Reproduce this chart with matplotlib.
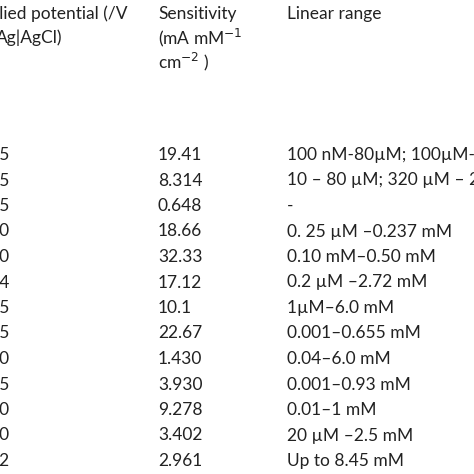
import matplotlib
matplotlib.use("Agg")
import matplotlib.pyplot as plt

potential = ["0.55", "0.55", "0.55", "0.60", "0.60", "0.54", "0.55",
             "0.55", "0.60", "0.55", "0.60", "0.60", "0.62"]
sensitivity = ["19.41", "8.314", "0.648", "18.66", "32.33", "17.12", "10.1",
               "22.67", "1.430", "3.930", "9.278", "3.402", "2.961"]
linear_range = ["100 nM-80\u00b5M; 100\u00b5M-5 mM", "10 \u2013 80 \u00b5M; 320 \u00b5M \u2013 2 mM", "-",
                "0. 25 \u00b5M \u20130.237 mM", "0.10 mM\u20130.50 mM", "0.2 \u00b5M \u20132.72 mM",
                "1\u00b5M\u20136.0 mM", "0.001\u20130.655 mM", "0.04\u20136.0 mM",
                "0.001\u20130.93 mM", "0.01\u20131 mM", "20 \u00b5M \u20132.5 mM", "Up to 8.45 mM"]

W = H = 474
fig = plt.figure(figsize=(4.74, 4.74), dpi=100)
plt.rcParams['font.family'] = ['Lato', 'DejaVu Sans']
fs = 12.5
col = "#222222"

def put(x, y, s, ha="left"):
    fig.text(x / W, 1 - y / H, s, ha=ha, va="center", fontsize=fs, color=col)

# header (left column is cut by the crop, as in the reference)
put(-32, 14, "Applied potential (/V")
put(-4, 38, "Ag|AgCl)")
put(158, 14, "Sensitivity")
put(158, 38, "(mA mM$^{-1}$")
put(158, 62, "cm$^{-2}$ )")
put(287, 14, "Linear range")

y0, dy = 155, 25.5
for i in range(len(sensitivity)):
    y = y0 + i * dy
    put(10, y, potential[i], ha="right")
    put(158, y, sensitivity[i])
    put(287, y, linear_range[i])

fig.savefig("out.png", dpi=100, facecolor="white")
